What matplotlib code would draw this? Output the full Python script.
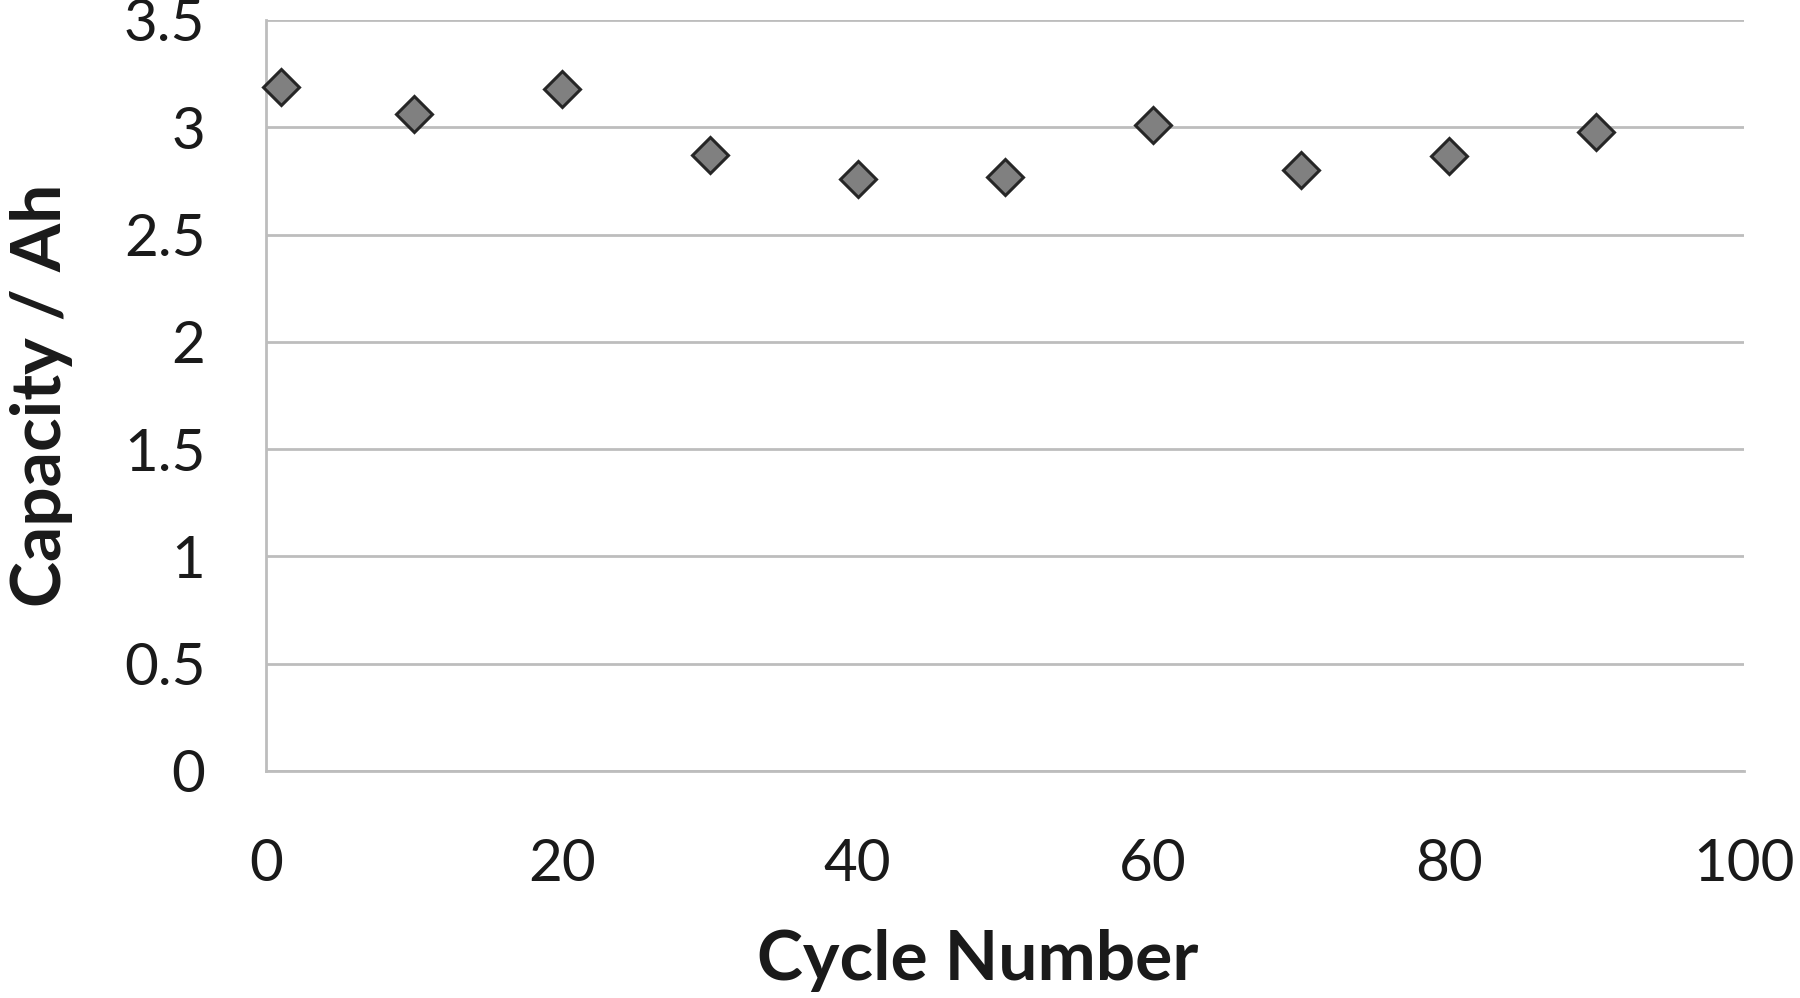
import matplotlib
matplotlib.use("Agg")
import matplotlib.pyplot as plt
from matplotlib.ticker import FuncFormatter

# capacity per cycle
cycles = [1, 10, 20, 30, 40, 50, 60, 70, 80, 90]
capacity = [3.187, 3.063, 3.178, 2.872, 2.759, 2.770, 3.010, 2.801, 2.867, 2.976]

x_ticks = [0, 20, 40, 60, 80, 100]
y_ticks = [0, 0.5, 1, 1.5, 2, 2.5, 3, 3.5]

plt.rcParams['font.family'] = ['Lato', 'DejaVu Sans']

grid_col = "#bdbdbd"
text_col = "#1a1a1a"

fig = plt.figure(figsize=(18, 9.98), dpi=100)
ax = fig.add_axes([0.148, 0.2275, 0.821, 0.7525])

ax.plot(cycles, capacity, linestyle="none", marker="D", markersize=18,
        markerfacecolor="#808080", markeredgecolor="#262626",
        markeredgewidth=2.2, zorder=3, clip_on=False)

ax.set_xlim(0, 100)
ax.set_ylim(0, 3.5)
ax.set_xticks(x_ticks)
ax.set_yticks(y_ticks)
ax.yaxis.set_major_formatter(FuncFormatter(lambda v, p: "%g" % v))

ax.grid(axis="y", color=grid_col, linewidth=2.0)
ax.set_axisbelow(True)
for s in ["top", "right"]:
    ax.spines[s].set_visible(False)
ax.spines["left"].set_color(grid_col)
ax.spines["bottom"].set_color(grid_col)
ax.spines["left"].set_linewidth(2.0)
ax.spines["bottom"].set_linewidth(2.0)

ax.tick_params(axis="both", length=0, labelsize=42, colors=text_col)
ax.tick_params(axis="y", pad=44)
ax.tick_params(axis="x", pad=48)

ax.set_xlabel("Cycle Number", fontsize=50, fontweight="bold", color=text_col)
ax.set_ylabel("Capacity / Ah", fontsize=50, fontweight="bold", color=text_col)
ax.xaxis.set_label_coords(0.481, -0.211)
ax.yaxis.set_label_coords(-0.131, 0.5)

plt.savefig("out.png", dpi=100)
